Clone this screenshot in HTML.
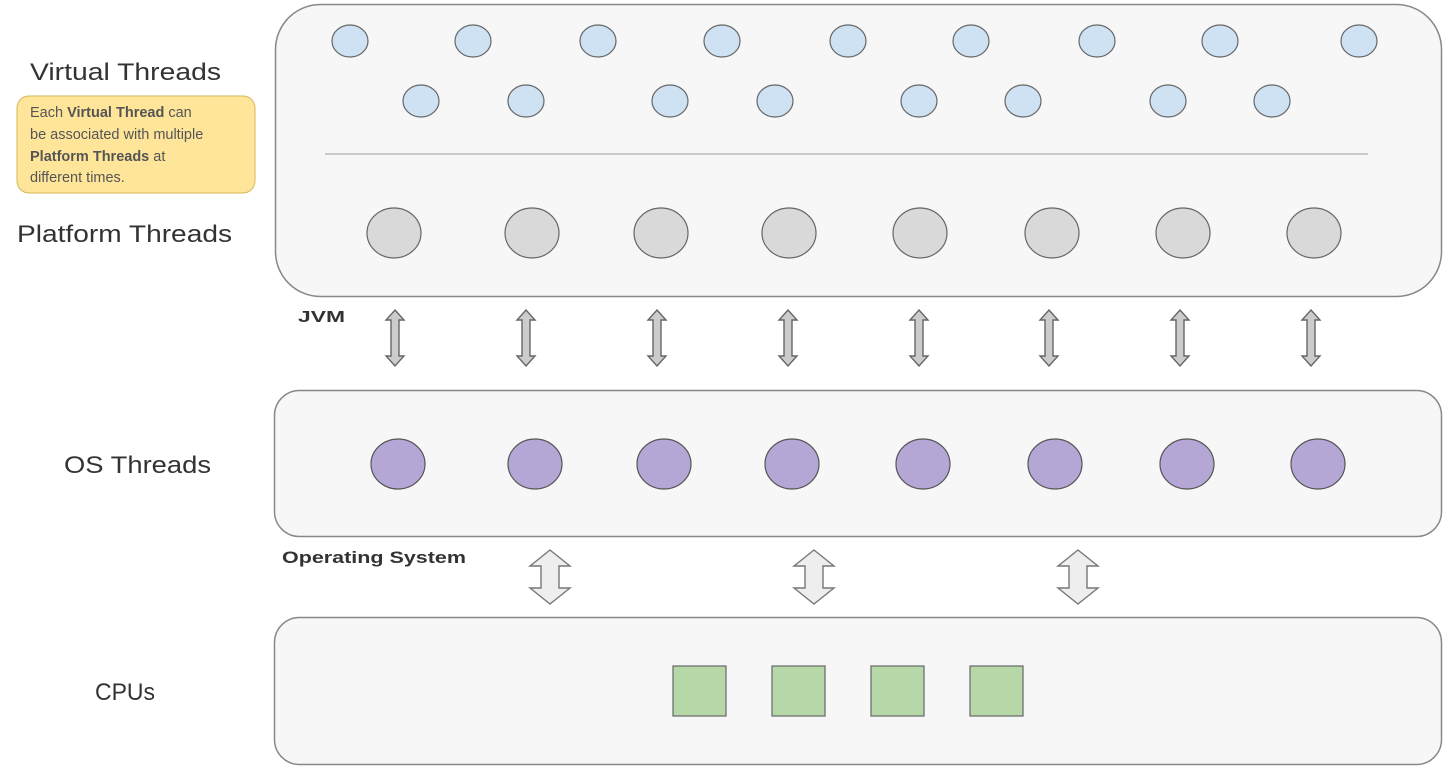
<!DOCTYPE html>
<html><head><meta charset="utf-8"><style>
html,body{margin:0;padding:0;background:#fff;}
svg{display:block;}
.lbl{font-family:"Comic Sans MS","Liberation Sans",sans-serif;fill:#333;}
</style></head><body>
<svg width="1456" height="773" viewBox="0 0 1456 773" xmlns="http://www.w3.org/2000/svg">
<defs>
<polygon id="ja" points="0,0 9,10 4,10 4,46 9,46 0,56 -9,46 -4,46 -4,10 -9,10" fill="#cccccc" stroke="#666" stroke-width="1.4"/>
<polygon id="oa" points="0,0 20,16 9,16 9,38 20,38 0,54 -20,38 -9,38 -9,16 -20,16" fill="#eeeeee" stroke="#777" stroke-width="1.4"/>
</defs>
<rect x="275.5" y="4.5" width="1166" height="292" rx="45" fill="#f7f7f7" stroke="#888" stroke-width="1.5"/>
<rect x="274.5" y="390.5" width="1167" height="146" rx="25" fill="#f7f7f7" stroke="#888" stroke-width="1.5"/>
<rect x="274.5" y="617.5" width="1167" height="147" rx="25" fill="#f7f7f7" stroke="#888" stroke-width="1.5"/>
<line x1="325" y1="154" x2="1368" y2="154" stroke="#bbb" stroke-width="1.5"/>
<g fill="#cfe2f3" stroke="#666" stroke-width="1.2">
<ellipse cx="350" cy="41" rx="18" ry="16"/><ellipse cx="473" cy="41" rx="18" ry="16"/><ellipse cx="598" cy="41" rx="18" ry="16"/><ellipse cx="722" cy="41" rx="18" ry="16"/><ellipse cx="848" cy="41" rx="18" ry="16"/><ellipse cx="971" cy="41" rx="18" ry="16"/><ellipse cx="1097" cy="41" rx="18" ry="16"/><ellipse cx="1220" cy="41" rx="18" ry="16"/><ellipse cx="1359" cy="41" rx="18" ry="16"/>
<ellipse cx="421" cy="101" rx="18" ry="16"/><ellipse cx="526" cy="101" rx="18" ry="16"/><ellipse cx="670" cy="101" rx="18" ry="16"/><ellipse cx="775" cy="101" rx="18" ry="16"/><ellipse cx="919" cy="101" rx="18" ry="16"/><ellipse cx="1023" cy="101" rx="18" ry="16"/><ellipse cx="1168" cy="101" rx="18" ry="16"/><ellipse cx="1272" cy="101" rx="18" ry="16"/>
</g>
<g fill="#d9d9d9" stroke="#666" stroke-width="1.2">
<ellipse cx="394" cy="233" rx="27" ry="25"/><ellipse cx="532" cy="233" rx="27" ry="25"/><ellipse cx="661" cy="233" rx="27" ry="25"/><ellipse cx="789" cy="233" rx="27" ry="25"/><ellipse cx="920" cy="233" rx="27" ry="25"/><ellipse cx="1052" cy="233" rx="27" ry="25"/><ellipse cx="1183" cy="233" rx="27" ry="25"/><ellipse cx="1314" cy="233" rx="27" ry="25"/>
</g>
<g fill="#b4a7d6" stroke="#555" stroke-width="1.2">
<ellipse cx="398" cy="464" rx="27" ry="25"/><ellipse cx="535" cy="464" rx="27" ry="25"/><ellipse cx="664" cy="464" rx="27" ry="25"/><ellipse cx="792" cy="464" rx="27" ry="25"/><ellipse cx="923" cy="464" rx="27" ry="25"/><ellipse cx="1055" cy="464" rx="27" ry="25"/><ellipse cx="1187" cy="464" rx="27" ry="25"/><ellipse cx="1318" cy="464" rx="27" ry="25"/>
</g>
<use href="#ja" x="395" y="310"/><use href="#ja" x="526" y="310"/><use href="#ja" x="657" y="310"/><use href="#ja" x="788" y="310"/><use href="#ja" x="919" y="310"/><use href="#ja" x="1049" y="310"/><use href="#ja" x="1180" y="310"/><use href="#ja" x="1311" y="310"/>
<use href="#oa" x="550" y="550"/><use href="#oa" x="814" y="550"/><use href="#oa" x="1078" y="550"/>
<g fill="#b6d7a8" stroke="#666" stroke-width="1.2">
<rect x="673" y="666" width="53" height="50"/><rect x="772" y="666" width="53" height="50"/><rect x="871" y="666" width="53" height="50"/><rect x="970" y="666" width="53" height="50"/>
</g>
<rect x="17" y="96" width="238" height="97" rx="12" fill="#ffe599" stroke="#d6b656" stroke-width="1"/>
<g font-family="Liberation Sans, sans-serif" font-size="14.5" fill="#555">
<text x="30" y="117">Each <tspan font-weight="bold">Virtual Thread</tspan> can</text>
<text x="30" y="139">be associated with multiple</text>
<text x="30" y="161"><tspan font-weight="bold">Platform Threads</tspan> at</text>
<text x="30" y="182">different times.</text>
</g>
<text class="lbl" x="30" y="80" font-size="24" textLength="191" lengthAdjust="spacingAndGlyphs">Virtual Threads</text>
<text class="lbl" x="17" y="242" font-size="24" textLength="215" lengthAdjust="spacingAndGlyphs">Platform Threads</text>
<text class="lbl" x="64" y="473" font-size="24" textLength="147" lengthAdjust="spacingAndGlyphs">OS Threads</text>
<text class="lbl" x="95" y="700" font-size="24" textLength="60" lengthAdjust="spacingAndGlyphs">CPUs</text>
<text class="lbl" x="298" y="322" font-size="16" font-weight="bold" textLength="47" lengthAdjust="spacingAndGlyphs">JVM</text>
<text class="lbl" x="282" y="563" font-size="17" font-weight="bold" textLength="184" lengthAdjust="spacingAndGlyphs">Operating System</text>
</svg>
</body></html>
